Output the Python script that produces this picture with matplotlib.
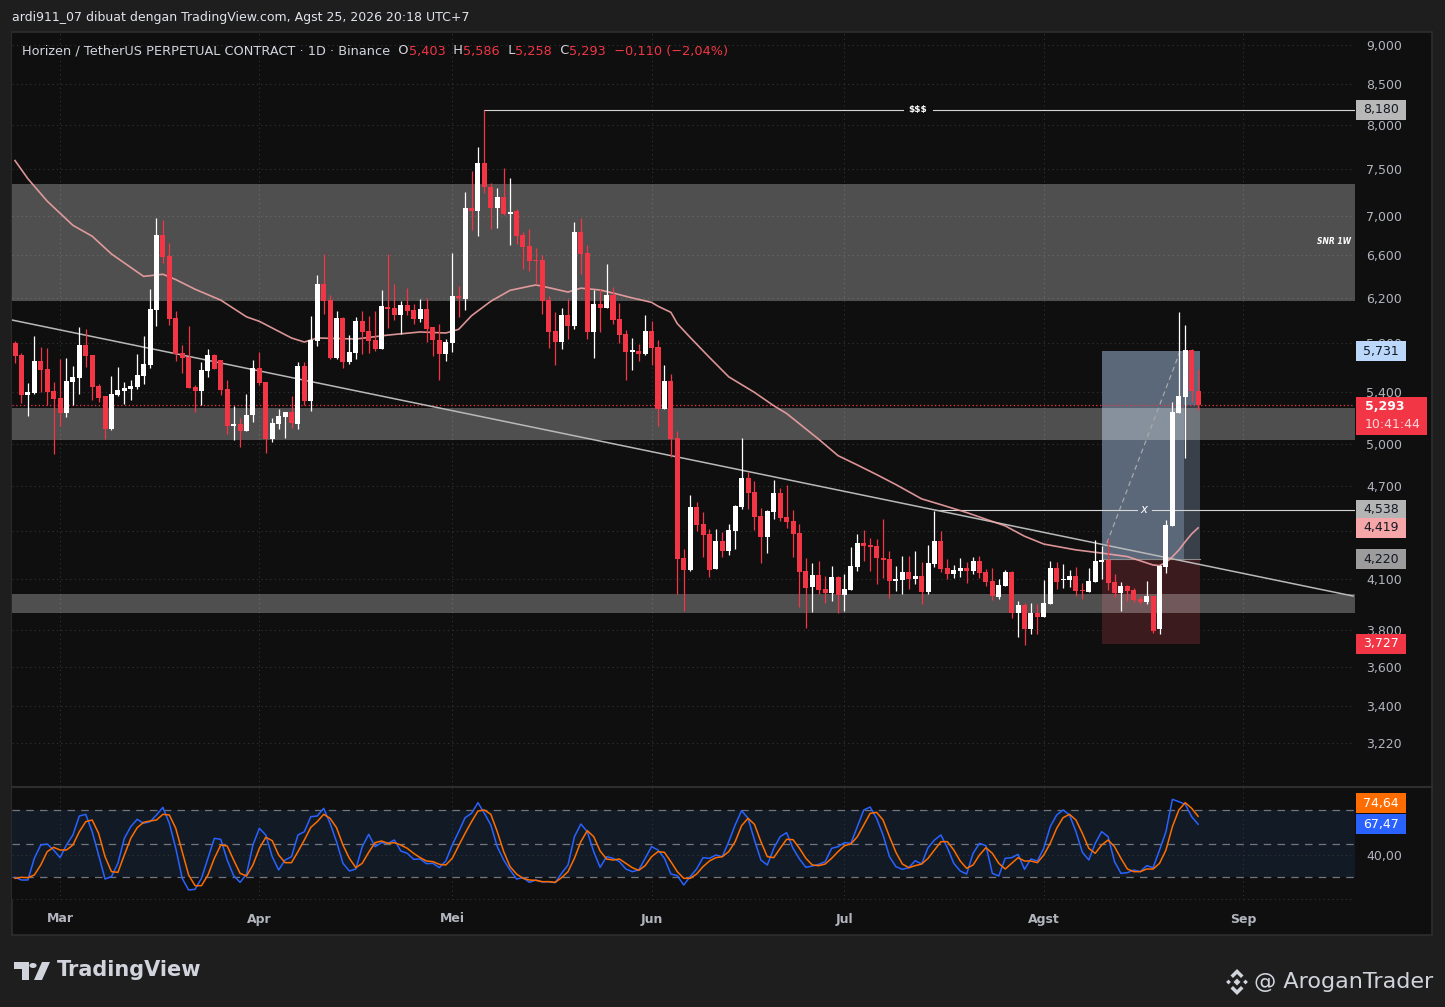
import numpy as np
import pandas as pd
import matplotlib
matplotlib.use("Agg")
import matplotlib.pyplot as plt
import matplotlib.dates as mdates
from matplotlib.patches import Rectangle, Polygon, Circle

plt.rcParams["font.family"] = ["DejaVu Sans"]

W, H = 1445, 1007
BG_OUT = "#1e1e1e"
BG = "#0f0f0f"
RED = "#f23645"
TXT = "#b2b5be"

# ---- data (ZEN/USDT perp, 1D) ----
start_date = "2026-02-22"

opens = [
    5.800, 5.700, 5.375, 5.390, 5.650, 5.580, 5.405, 5.350, 5.235, 5.480,
    5.510, 5.785, 5.700, 5.445, 5.365, 5.110, 5.375, 5.405, 5.420, 5.440,
    5.530, 5.615, 6.090, 6.800, 6.595, 6.020, 5.715, 5.685, 5.440, 5.405,
    5.570, 5.700, 5.660, 5.420, 5.135, 5.150, 5.100, 5.215, 5.590, 5.475,
    5.035, 5.150, 5.205, 5.240, 5.150, 5.610, 5.325, 5.820, 6.330, 6.180,
    5.675, 6.020, 5.640, 5.715, 5.995, 5.905, 5.825, 5.750, 6.120, 6.110,
    6.045, 6.135, 6.090, 6.010, 6.100, 5.940, 5.825, 5.710, 5.800, 6.220,
    6.190, 7.080, 7.045, 7.565, 7.300, 7.080, 7.195, 7.015, 7.045, 6.800,
    6.690, 6.555, 6.555, 6.180, 5.905, 5.810, 6.045, 5.950, 6.835, 6.625,
    5.895, 6.145, 6.110, 6.225, 6.010, 5.880, 5.725, 5.735, 5.710, 5.905,
    5.765, 5.265, 5.485, 5.045, 4.225, 4.155, 4.555, 4.445, 4.380, 4.160,
    4.335, 4.270, 4.400, 4.555, 4.755, 4.660, 4.495, 4.360, 4.525, 4.650,
    4.490, 4.465, 4.385, 4.145, 4.050, 4.120, 4.040, 4.015, 4.110, 4.005,
    4.035, 4.170, 4.320, 4.310, 4.305, 4.230, 4.220, 4.085, 4.090, 4.140,
    4.100, 4.115, 4.020, 4.190, 4.335, 4.165, 4.130, 4.150, 4.165, 4.150,
    4.210, 4.140, 4.085, 3.990, 4.055, 4.140, 3.900, 3.945, 3.810, 3.900,
    3.875, 3.950, 4.165, 4.090, 4.092, 4.115, 4.033, 4.022, 4.080, 4.205,
    4.215, 4.080, 4.015, 4.055, 4.033, 3.980, 3.962, 3.995, 3.808, 4.170,
    4.430, 5.235, 5.360, 5.740, 5.403,
]
highs = [
    5.820, 5.715, 5.470, 5.860, 5.765, 5.760, 5.480, 5.665, 5.675, 5.610,
    5.940, 5.920, 5.700, 5.460, 5.370, 5.525, 5.600, 5.480, 5.495, 5.710,
    5.860, 6.280, 6.975, 6.955, 6.720, 6.080, 5.785, 5.950, 5.455, 5.640,
    5.750, 5.705, 5.660, 5.495, 5.290, 5.195, 5.380, 5.660, 5.725, 5.480,
    5.195, 5.265, 5.245, 5.365, 5.640, 5.640, 6.040, 6.415, 6.615, 6.225,
    6.080, 6.025, 5.870, 6.030, 6.080, 6.040, 6.080, 6.275, 6.615, 6.330,
    6.170, 6.290, 6.145, 6.190, 6.200, 5.940, 5.965, 5.835, 6.625, 6.310,
    7.245, 7.475, 7.745, 8.180, 7.345, 7.290, 7.505, 7.400, 7.065, 6.835,
    6.865, 6.675, 6.605, 6.220, 6.075, 6.110, 6.190, 6.935, 6.975, 6.700,
    6.275, 6.280, 6.515, 6.300, 6.155, 5.915, 5.845, 5.790, 6.045, 5.995,
    5.825, 5.615, 5.545, 5.095, 4.285, 4.640, 4.590, 4.525, 4.410, 4.410,
    4.390, 4.445, 4.570, 5.045, 4.800, 4.735, 4.550, 4.535, 4.740, 4.685,
    4.705, 4.535, 4.445, 4.225, 4.195, 4.210, 4.115, 4.180, 4.115, 4.130,
    4.295, 4.380, 4.405, 4.355, 4.350, 4.475, 4.270, 4.180, 4.240, 4.240,
    4.270, 4.200, 4.310, 4.530, 4.400, 4.220, 4.185, 4.227, 4.200, 4.235,
    4.240, 4.160, 4.165, 4.100, 4.155, 4.145, 3.970, 3.955, 3.955, 3.950,
    4.090, 4.210, 4.200, 4.190, 4.155, 4.170, 4.075, 4.165, 4.340, 4.305,
    4.350, 4.130, 4.080, 4.060, 4.045, 3.997, 4.085, 4.000, 4.185, 4.470,
    5.320, 6.075, 5.960, 5.750, 5.586,
]
lows = [
    5.635, 5.310, 5.210, 5.380, 5.400, 5.295, 4.925, 5.135, 5.205, 5.295,
    5.380, 5.600, 5.335, 5.320, 5.035, 5.105, 5.370, 5.305, 5.335, 5.420,
    5.460, 5.590, 5.950, 6.525, 5.960, 5.650, 5.550, 5.430, 5.240, 5.295,
    5.520, 5.585, 5.375, 5.075, 5.030, 4.980, 5.095, 5.165, 5.455, 4.935,
    5.015, 5.110, 5.045, 5.120, 5.110, 5.295, 5.250, 5.775, 6.055, 5.665,
    5.665, 5.590, 5.625, 5.665, 5.710, 5.715, 5.735, 5.750, 5.930, 6.000,
    5.880, 6.045, 5.965, 5.985, 5.810, 5.690, 5.495, 5.650, 5.725, 6.030,
    6.090, 6.855, 6.790, 7.235, 6.865, 6.875, 7.005, 6.700, 6.710, 6.470,
    6.450, 6.330, 6.055, 5.760, 5.615, 5.750, 5.835, 5.925, 6.420, 5.835,
    5.675, 5.895, 6.110, 5.965, 5.800, 5.495, 5.575, 5.650, 5.700, 5.615,
    5.135, 5.265, 4.905, 4.010, 3.910, 4.150, 4.400, 4.235, 4.110, 4.160,
    4.235, 4.245, 4.285, 4.545, 4.545, 4.405, 4.195, 4.260, 4.475, 4.465,
    4.420, 4.235, 3.935, 3.815, 3.905, 4.010, 3.955, 3.970, 3.900, 3.910,
    4.035, 4.145, 4.210, 4.145, 4.070, 4.105, 3.985, 4.025, 4.010, 4.040,
    4.070, 3.950, 4.010, 4.170, 4.140, 4.100, 4.105, 4.110, 4.075, 4.130,
    4.105, 4.055, 3.975, 3.980, 4.055, 3.870, 3.765, 3.720, 3.780, 3.780,
    3.875, 3.950, 4.040, 4.045, 4.050, 3.995, 3.980, 4.020, 4.080, 4.100,
    4.035, 3.990, 3.910, 3.970, 3.962, 3.950, 3.950, 3.785, 3.780, 4.135,
    4.430, 5.235, 4.900, 5.320, 5.258,
]
closes = [
    5.690, 5.375, 5.400, 5.650, 5.575, 5.400, 5.345, 5.235, 5.485, 5.520,
    5.785, 5.690, 5.440, 5.350, 5.110, 5.380, 5.415, 5.430, 5.445, 5.535,
    5.625, 6.100, 6.800, 6.585, 6.010, 5.710, 5.675, 5.430, 5.405, 5.575,
    5.700, 5.585, 5.415, 5.135, 5.150, 5.095, 5.220, 5.590, 5.470, 5.035,
    5.155, 5.210, 5.240, 5.155, 5.610, 5.325, 5.825, 6.330, 6.170, 5.675,
    6.020, 5.640, 5.725, 5.995, 5.895, 5.820, 5.750, 6.125, 6.100, 6.045,
    6.135, 6.080, 6.010, 6.100, 5.925, 5.825, 5.710, 5.810, 6.220, 6.200,
    7.080, 7.045, 7.565, 7.300, 7.080, 7.195, 7.015, 7.035, 6.790, 6.685,
    6.545, 6.545, 6.170, 5.895, 5.810, 6.045, 5.950, 6.835, 6.615, 5.895,
    6.145, 6.110, 6.225, 6.000, 5.870, 5.725, 5.740, 5.710, 5.905, 5.760,
    5.265, 5.485, 5.035, 4.220, 4.155, 4.555, 4.440, 4.375, 4.155, 4.335,
    4.270, 4.405, 4.565, 4.755, 4.650, 4.490, 4.360, 4.530, 4.650, 4.485,
    4.457, 4.380, 4.140, 4.045, 4.120, 4.035, 4.015, 4.110, 4.005, 4.040,
    4.180, 4.320, 4.305, 4.295, 4.225, 4.215, 4.085, 4.100, 4.140, 4.100,
    4.115, 4.020, 4.195, 4.335, 4.160, 4.130, 4.155, 4.165, 4.150, 4.210,
    4.135, 4.080, 3.995, 4.065, 4.140, 3.900, 3.945, 3.810, 3.900, 3.875,
    3.955, 4.165, 4.080, 4.098, 4.115, 4.025, 4.027, 4.085, 4.210, 4.215,
    4.075, 4.015, 4.055, 4.027, 3.975, 3.962, 3.997, 3.795, 4.180, 4.440,
    5.240, 5.365, 5.740, 5.403, 5.293,
]

# moving average (day offset from start_date, price)
ma_days = [0, 2, 5, 9, 12, 15, 18, 20, 23, 25, 28, 32, 36, 38, 43, 45, 47, 53, 58, 63,
           67, 69, 71, 74, 77, 81, 83, 86, 88, 91, 93, 96, 99, 100, 102, 103, 105, 108, 111, 115,
           118, 120, 125, 128, 131, 134, 137, 141, 143, 148, 154, 157, 160, 165, 169, 173, 177, 178, 179, 180,
           181, 182, 183, 184]
ma_values = [7.590, 7.390, 7.150, 6.900, 6.790, 6.615, 6.485, 6.400, 6.420, 6.370,
             6.280, 6.180, 6.030, 5.990, 5.845, 5.810, 5.845, 5.836, 5.870, 5.897,
             5.888, 5.920, 6.040, 6.170, 6.270, 6.320, 6.295, 6.254, 6.290, 6.273,
             6.245, 6.200, 6.160, 6.125, 6.070, 5.970, 5.850, 5.680, 5.520, 5.395,
             5.290, 5.230, 5.035, 4.915, 4.848, 4.780, 4.710, 4.612, 4.586, 4.520,
             4.432, 4.365, 4.315, 4.278, 4.258, 4.236, 4.184, 4.180, 4.200, 4.235,
             4.277, 4.330, 4.380, 4.419]

stoch_k = [
    19.7, 17.3, 17.3, 36.8, 48.8, 49.7, 44.3, 37.4, 48.8, 57.8,
    74.9, 76.4, 60.8, 39.8, 18.2, 20.3, 32.3, 54.8, 65.3, 71.9,
    68.3, 69.8, 75.8, 82.7, 68.3, 45.8, 18.8, 8.3, 8.9, 18.8,
    36.8, 54.8, 53.9, 35.3, 21.2, 15.2, 22.4, 48.8, 63.8, 57.8,
    38.3, 26.3, 35.3, 38.3, 57.8, 60.8, 74.3, 74.9, 81.8, 68.3,
    51.8, 32.3, 25.4, 27.2, 47.3, 58.4, 47.3, 50.9, 50.3, 53.3,
    43.4, 41.3, 35.9, 36.2, 32.0, 32.3, 28.4, 34.4, 48.8, 60.8,
    73.4, 77.3, 86.9, 77.3, 66.8, 47.3, 35.3, 26.3, 18.2, 19.4,
    15.2, 17.3, 15.5, 15.8, 14.9, 23.3, 30.8, 56.3, 67.7, 60.8,
    42.8, 28.7, 38.3, 36.8, 33.8, 27.2, 24.8, 26.3, 36.8, 47.3,
    44.3, 36.8, 22.7, 21.2, 12.8, 20.3, 27.2, 37.4, 36.8, 39.8,
    38.3, 51.8, 66.8, 79.7, 72.8, 53.3, 35.3, 30.8, 45.8, 56.3,
    59.9, 45.8, 36.2, 28.7, 29.9, 31.4, 33.8, 45.8, 47.3, 50.9,
    50.3, 65.3, 80.3, 83.0, 72.8, 57.8, 38.3, 29.3, 26.9, 28.4,
    34.7, 31.7, 46.4, 53.3, 57.8, 46.4, 32.3, 25.4, 22.7, 41.3,
    50.3, 48.2, 23.3, 20.9, 36.8, 37.4, 40.4, 26.9, 36.2, 34.4,
    45.8, 65.3, 75.8, 80.3, 75.8, 60.8, 42.2, 35.3, 50.3, 60.8,
    56.3, 33.8, 23.3, 23.9, 26.3, 24.8, 30.2, 28.4, 44.3, 60.8,
    89.9, 87.8, 85.4, 74.3, 67.47,
]
stoch_d = [
    18.8, 19.7, 19.4, 21.8, 30.8, 42.8, 46.7, 44.3, 44.3, 48.8,
    60.8, 69.8, 71.3, 59.3, 38.3, 24.8, 24.2, 39.8, 54.8, 64.4,
    69.2, 70.4, 71.3, 76.4, 75.8, 63.8, 42.8, 21.8, 12.2, 12.2,
    21.8, 36.8, 48.8, 47.9, 35.3, 23.3, 20.9, 30.8, 45.8, 55.7,
    52.7, 39.8, 32.9, 32.9, 42.8, 53.3, 64.7, 69.8, 76.4, 72.8,
    64.4, 48.8, 36.8, 28.4, 32.3, 42.2, 50.9, 52.4, 50.3, 50.9,
    48.8, 45.8, 41.3, 37.4, 34.4, 33.8, 31.4, 30.8, 36.8, 48.2,
    59.3, 69.8, 79.4, 80.3, 76.4, 60.8, 42.8, 29.3, 22.7, 18.8,
    17.3, 17.0, 15.8, 15.8, 15.2, 19.4, 24.8, 36.8, 51.8, 61.7,
    56.3, 43.4, 36.2, 35.3, 36.2, 32.3, 28.4, 26.0, 30.2, 38.3,
    42.8, 42.2, 33.8, 24.8, 18.8, 18.8, 22.7, 29.3, 34.4, 37.4,
    38.3, 42.8, 51.8, 66.2, 72.8, 67.4, 51.8, 38.3, 37.4, 45.8,
    53.9, 53.6, 45.8, 36.8, 30.8, 30.2, 31.7, 36.8, 42.8, 48.2,
    49.7, 56.3, 66.8, 77.3, 78.2, 71.3, 56.3, 42.2, 31.7, 28.4,
    30.2, 31.7, 36.8, 44.3, 51.8, 51.8, 44.3, 34.4, 27.8, 30.8,
    39.8, 46.4, 41.3, 32.3, 27.2, 32.3, 37.4, 34.4, 34.4, 32.9,
    39.8, 50.3, 63.8, 73.4, 76.4, 71.3, 59.3, 45.8, 41.3, 48.8,
    53.3, 47.3, 36.8, 27.2, 24.8, 24.8, 27.2, 27.2, 32.3, 44.3,
    65.3, 80.3, 86.9, 81.8, 74.64,
]

month_labels = ["Mar", "Apr", "Mei", "Jun", "Jul", "Agst", "Sep"]
price_ticks = [9.0, 8.5, 8.0, 7.5, 7.0, 6.6, 6.2, 5.8, 5.4, 5.0, 4.7, 4.4, 4.1, 3.8, 3.6, 3.4, 3.22]
hidden_ticks = [4.4]  # fully covered by the MA tag in the reference

# drawings
snr_zones = [(6.175, 7.335), (5.033, 5.275), (3.896, 4.010)]
trend_days = [-0.5, 208.1]
trend_prices = [6.002, 3.997]
sss_level = 8.180
x_level = 4.538
entry_price, target_price, stop_price = 4.220, 5.731, 3.727
countdown = "10:41:44"


def fmt(v, nd=3):
    s = f"{abs(v):.{nd}f}".replace(".", ",")
    return ("\u2212" + s) if v < 0 else s


dates = pd.date_range(start_date, periods=len(closes), freq="D")
xs = mdates.date2num(dates)


def dx(d):
    return xs[0] + d


fig = plt.figure(figsize=(W / 100, H / 100), dpi=100, facecolor=BG_OUT)


def fig_rect(px, py, w, h):
    return [px / W, 1 - (py + h) / H, w / W, h / H]


def P(px, py):
    return (px / W, 1 - py / H)


# chart panel frame
fig.add_artist(Rectangle(P(12, 935), 1420 / W, 903 / H, transform=fig.transFigure,
                         fc=BG, ec="#2e2e2e", lw=1.2, zorder=-1))

ax = fig.add_axes(fig_rect(12, 33, 1343, 753))
ax2 = fig.add_axes(fig_rect(12, 788, 1343, 112))
for a in (ax, ax2):
    a.set_facecolor(BG)
    for s in a.spines.values():
        s.set_visible(False)

xmin, xmax = dx(-0.47), dx(208.4)
month_pos = mdates.date2num(pd.date_range("2026-03-01", periods=len(month_labels), freq="MS"))

# ---- price panel ----
ax.set_yscale("log")
ax.set_ylim(3.0216, 9.159)
ax.set_xlim(xmin, xmax)
ax.set_yticks(price_ticks, ["" if p in hidden_ticks else fmt(p) for p in price_ticks])
ax.minorticks_off()
ax.yaxis.tick_right()
ax.tick_params(axis="y", length=0, pad=8, labelsize=9, labelcolor=TXT)
ax.set_xticks(month_pos)
ax.tick_params(axis="x", length=0, labelbottom=False)
ax.grid(True, color="#333333", lw=0.8, ls=(0, (1, 3)))
ax.set_axisbelow(True)

# long position tool
pos_l, pos_r, pos_split = dx(169.0), dx(184.3), dx(181.8)
ax.add_patch(Rectangle((pos_l, entry_price), pos_r - pos_l, target_price - entry_price,
                       fc="#3a4049", lw=0, zorder=1))
ax.add_patch(Rectangle((pos_l, entry_price), pos_split - pos_l, target_price - entry_price,
                       fc="#5b6879", lw=0, zorder=1))
ax.add_patch(Rectangle((pos_split, closes[-1]), pos_r - pos_split, target_price - closes[-1],
                       fc="#5b6879", lw=0, zorder=1))
ax.add_patch(Rectangle((pos_l, stop_price), pos_r - pos_l, entry_price - stop_price,
                       fc="#3c1b1f", lw=0, zorder=1))
ax.plot([pos_l, pos_r], [entry_price, entry_price], color="#8a8a8a", lw=0.8, zorder=1.5)
ax.plot([dx(169.8), dx(181.2)], [4.320, target_price], color="#a8a8a8", lw=0.9,
        ls=(0, (4, 3)), zorder=3)

# S/R zones
for lo, hi in snr_zones:
    ax.axhspan(lo, hi, color="white", alpha=0.27, lw=0, zorder=2)
ax.text(1.0 - 0.003, 6.742, "SNR 1W", transform=ax.get_yaxis_transform(), ha="right",
        va="center", fontsize=5.5, style="italic", weight="bold", color="white", zorder=7)

# trend line and MA
ax.plot([dx(d) for d in trend_days], trend_prices, color="#b9b9b9", lw=1.1, zorder=4)
ax.plot(dx(np.array(ma_days)), ma_values, color="#f0a2a4", lw=1.2, alpha=0.9, zorder=4)

# horizontal rays
ax.plot([dx(72.9), dx(138.1)], [sss_level] * 2, color="#d6d6d6", lw=0.8, zorder=3)
ax.plot([dx(142.7), xmax], [sss_level] * 2, color="#d6d6d6", lw=0.8, zorder=3)
ax.text(dx(140.4), sss_level, "$$$", ha="center", va="center", fontsize=6.5,
        weight="bold", color="white", zorder=7)
ax.plot([dx(143.1), dx(174.5)], [x_level] * 2, color="#d6d6d6", lw=0.8, zorder=3)
ax.plot([dx(176.8), xmax], [x_level] * 2, color="#d6d6d6", lw=0.8, zorder=3)
ax.text(dx(175.6), x_level, "x", ha="center", va="center", fontsize=8.5,
        style="italic", color="white", zorder=7)

# last price line
ax.axhline(closes[-1], color=RED, lw=0.9, ls=(0, (1, 2)), zorder=3)

# candles
o = np.array(opens)
h = np.array(highs)
l = np.array(lows)
c = np.array(closes)
cols = np.where(c >= o, "#ffffff", RED)
ax.vlines(xs, l, h, colors=cols, lw=0.9, zorder=5)
body_lo = np.minimum(o, c)
body_h = np.maximum(np.abs(c - o), c * 0.0013)
ax.bar(xs, body_h, bottom=body_lo, width=0.78, color=cols, lw=0, zorder=6)

# ---- stoch RSI panel ----
ax2.set_xlim(xmin, xmax)
ax2.set_ylim(-0.7, 100.1)
ax2.axhspan(20, 80, color="#121b25", lw=0, zorder=0)
for lvl in (80, 50, 20):
    ax2.axhline(lvl, color="#727580", lw=0.9, ls=(0, (6, 5)), zorder=1)
ax2.axhline(0, color="#333333", lw=0.8, ls=(0, (1, 3)), zorder=1)
ax2.set_yticks([40], ["40,00"])
ax2.yaxis.tick_right()
ax2.tick_params(axis="y", length=0, pad=8, labelsize=9, labelcolor=TXT)
ax2.set_xticks(month_pos, month_labels)
ax2.tick_params(axis="x", length=0, pad=9, labelsize=9, labelcolor=TXT)
for lbl in ax2.get_xticklabels():
    lbl.set_fontweight("bold")
ax2.grid(True, color="#333333", lw=0.8, ls=(0, (1, 3)))
ax2.set_axisbelow(True)
ax2.plot(xs, stoch_k, color="#2962ff", lw=1.1, zorder=3)
ax2.plot(xs, stoch_d, color="#ff6d00", lw=1.1, zorder=4)

# panel separator
fig.add_artist(plt.Line2D([12 / W, 1432 / W], [1 - 787 / H] * 2, transform=fig.transFigure,
                          color="#2e2e2e", lw=1.5, zorder=1))


# ---- price-scale tags ----
def tag(axis, val, text, fc, tc, shift=0, w=50, hgt=20, weight="normal"):
    yd = axis.transData.transform((xmin, val))[1] + shift
    fig.add_artist(Rectangle((1356 / W, (yd - hgt / 2) / H), w / W, hgt / H,
                             transform=fig.transFigure, fc=fc, ec="none", zorder=5))
    fig.text((1356 + w / 2) / W, yd / H, text, ha="center", va="center", color=tc,
             fontsize=9, weight=weight, zorder=6)


tag(ax, sss_level, fmt(sss_level), "#b8b8b8", "#131722")
tag(ax, target_price, fmt(target_price), "#bbd8fb", "#131722")
tag(ax, x_level, fmt(x_level), "#b4b4b4", "#131722")
tag(ax, ma_values[-1], fmt(ma_values[-1]), "#f5a6a8", "#131722")
tag(ax, entry_price, fmt(entry_price), "#9c9c9c", "#131722")
tag(ax, stop_price, fmt(stop_price), RED, "white")

yd = ax.transData.transform((xmin, closes[-1]))[1]
fig.add_artist(Rectangle((1356 / W, (yd - 30) / H), 71 / W, 38 / H, transform=fig.transFigure,
                         fc=RED, ec="none", zorder=5))
fig.text(1365 / W, (yd - 1) / H, fmt(closes[-1]), ha="left", va="center", color="white",
         fontsize=9, weight="bold", zorder=6)
fig.text(1365 / W, (yd - 19) / H, countdown, ha="left", va="center", color="#ffd6d9",
         fontsize=9, zorder=6)

tag(ax2, stoch_k[-1], fmt(stoch_k[-1], 2), "#2962ff", "white")
tag(ax2, stoch_k[-1], fmt(stoch_d[-1], 2), "#ff6d00", "white", shift=21)

# ---- header ----
fig.text(12 / W, 1 - 18 / H, "ardi911_07 dibuat dengan TradingView.com, Agst 25, 2026 20:18 UTC+7",
         ha="left", va="center", fontsize=9, color="#e0e3eb")

chg = closes[-1] - closes[-2]
pct = chg / closes[-2] * 100
pieces = [
    ("Horizen / TetherUS PERPETUAL CONTRACT \u00b7 1D \u00b7 Binance", "#d1d4dc"),
    ("  O", "#d1d4dc"), (fmt(opens[-1]), RED),
    ("  H", "#d1d4dc"), (fmt(highs[-1]), RED),
    ("  L", "#d1d4dc"), (fmt(lows[-1]), RED),
    ("  C", "#d1d4dc"), (fmt(closes[-1]), RED),
    ("  " + fmt(chg) + " (" + fmt(pct, 2) + "%)", RED),
]
renderer = fig.canvas.get_renderer()
cx = 22
for s, col in pieces:
    t = fig.text(cx / W, 1 - 51 / H, s, ha="left", va="center", fontsize=9.3, color=col)
    cx += t.get_window_extent(renderer).width

# ---- footer logos ----
logo = "#d1d4dc"
fig.add_artist(Polygon([P(14, 962), P(29, 962), P(29, 980), P(22, 980), P(22, 969), P(14, 969)],
                       closed=True, transform=fig.transFigure, fc=logo, ec="none"))
fig.add_artist(Circle(P(33, 965.5), 3.6 / W, transform=fig.transFigure, fc=logo, ec="none"))
fig.add_artist(Polygon([P(34, 980), P(42, 980), P(50, 962), P(42, 962)], closed=True,
                       transform=fig.transFigure, fc=logo, ec="none"))
fig.text(57 / W, 1 - 970 / H, "TradingView", ha="left", va="center", fontsize=15,
         weight="bold", color=logo)


def diamond(cx_, cy_, r):
    return [P(cx_, cy_ - r), P(cx_ + r, cy_), P(cx_, cy_ + r), P(cx_ - r, cy_)]


bx, by = 1237, 982
for shape in (diamond(bx, by, 3.5), diamond(bx - 8.5, by, 2.4), diamond(bx + 8.5, by, 2.4)):
    fig.add_artist(Polygon(shape, closed=True, transform=fig.transFigure, fc=logo, ec="none"))
for sgn in (-1, 1):
    chev = [P(bx - 6.5, by + sgn * 6.5), P(bx, by + sgn * 13), P(bx + 6.5, by + sgn * 6.5),
            P(bx + 4, by + sgn * 4), P(bx, by + sgn * 8), P(bx - 4, by + sgn * 4)]
    fig.add_artist(Polygon(chev, closed=True, transform=fig.transFigure, fc=logo, ec="none"))
fig.text(1254 / W, 1 - 982 / H, "@ AroganTrader", ha="left", va="center", fontsize=16,
         color=logo)

fig.savefig("out.png", dpi=100, facecolor=BG_OUT)
